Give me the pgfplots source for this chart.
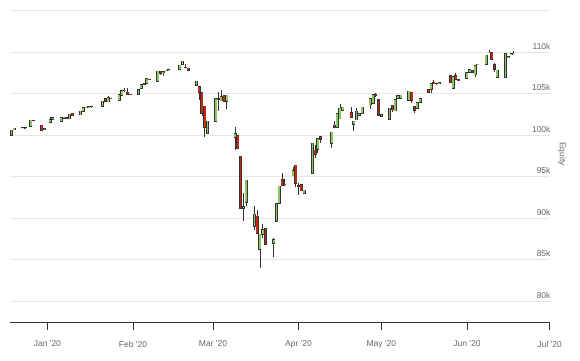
\documentclass[border=0pt]{standalone}
\usepackage{pgfplots}
\pgfplotsset{compat=1.18}
\usepackage{pgfplotstable}
\usepackage{fontspec}
\setmainfont{Liberation Sans}
\definecolor{upc}{RGB}{140,200,100}
\definecolor{dnc}{RGB}{200,40,15}
\definecolor{edge}{RGB}{51,51,51}
\definecolor{gridc}{RGB}{230,230,230}
\definecolor{labc}{RGB}{102,102,102}

% d = days since 1 Jan 2020; o h l c in thousands
\pgfplotstableread{
d o h l c
-13 99.94 100.63 99.94 100.63
-12 100.63 100.87 100.60 100.87
-9 100.88 100.95 100.88 100.95
-8 100.93 100.93 100.90 100.90
-6 101.10 101.83 101.10 101.83
-5 101.80 101.80 101.74 101.74
-2 101.23 101.23 100.60 100.60
-1 100.70 100.82 100.70 100.82
1 101.50 102.16 101.50 101.90
2 101.92 102.20 101.92 102.08
5 101.63 102.10 101.63 102.10
6 102.02 102.18 102.02 102.18
7 102.15 102.15 101.98 101.98
8 101.95 102.55 101.95 102.55
9 102.68 102.68 102.40 102.40
12 102.45 102.90 102.45 102.90
13 102.90 103.33 102.90 103.33
14 103.33 103.38 103.33 103.38
15 103.40 103.45 103.40 103.45
16 103.45 103.45 103.42 103.42
20 103.44 104.12 103.44 104.12
21 104.38 104.38 104.10 104.10
22 104.00 104.75 104.00 104.55
23 104.45 104.45 104.40 104.40
26 104.16 104.90 104.16 104.90
27 104.82 105.35 104.82 105.35
28 105.35 105.65 105.20 105.45
29 105.20 105.75 104.95 104.95
30 104.92 104.92 104.88 104.88
33 104.93 105.52 104.93 105.52
34 105.65 106.14 105.65 106.14
35 106.14 106.22 106.14 106.20
36 106.26 106.86 106.26 106.86
37 106.75 106.75 106.70 106.70
40 106.50 107.74 106.50 107.74
41 107.74 107.74 107.30 107.44
42 107.55 107.68 107.18 107.68
43 107.80 107.85 107.80 107.85
44 107.86 107.88 107.86 107.88
48 107.90 108.47 107.90 108.47
49 108.50 108.95 108.50 108.95
50 108.20 108.55 108.05 108.12
51 108.10 108.10 107.70 107.85
54 105.97 106.54 105.97 106.54
55 105.82 105.82 104.25 105.13
56 105.13 105.13 102.30 102.64
57 103.52 103.52 99.82 100.95
58 100.18 101.71 100.18 101.71
61 101.63 104.45 101.63 104.45
62 104.40 105.25 102.92 104.32
63 104.15 105.40 104.15 104.62
64 104.77 104.77 104.04 104.04
65 104.04 104.85 103.16 104.85
68 99.70 100.95 98.21 100.20
69 99.91 99.91 98.43 98.43
70 97.49 97.49 91.19 91.19
71 91.15 93.00 89.70 91.35
72 91.86 94.57 91.45 94.57
75 88.97 91.45 88.57 90.50
76 90.25 91.03 88.16 88.16
77 86.24 88.08 83.94 88.08
78 88.04 89.29 87.56 88.64
79 88.76 88.76 86.84 86.84
82 86.96 87.56 85.34 87.40
83 89.60 91.79 89.60 91.79
84 91.79 93.87 91.79 93.87
85 94.68 95.40 93.91 93.91
86 94.10 94.72 93.87 94.02
89 95.08 96.12 95.08 95.72
90 96.40 96.40 93.79 94.20
91 93.90 94.20 92.79 93.84
92 94.00 94.00 93.27 93.27
93 92.99 93.39 92.99 93.39
96 95.40 99.03 95.40 99.03
97 98.21 98.80 97.20 97.70
98 98.30 99.58 97.85 99.58
99 99.87 99.87 99.03 99.50
103 99.03 100.36 98.42 100.36
104 101.23 101.70 100.95 100.95
105 100.95 102.64 100.95 102.64
106 101.95 103.76 101.95 103.25
107 102.96 103.40 102.96 103.40
110 102.72 103.40 102.16 102.16
111 101.31 101.71 100.54 101.71
112 101.83 103.25 101.83 102.92
113 102.35 102.64 102.35 102.64
114 102.64 103.37 102.64 103.37
117 103.64 104.37 103.12 104.37
118 103.85 104.89 103.85 104.89
119 104.88 105.05 104.65 104.83
120 104.29 104.29 102.35 102.35
121 102.23 102.52 102.23 102.52
124 101.92 103.25 101.92 103.25
125 103.64 103.64 102.80 103.04
126 102.92 104.25 102.92 104.25
127 104.40 104.81 104.40 104.81
128 104.45 104.85 104.45 104.85
131 104.20 105.31 104.20 105.31
132 105.20 105.20 103.85 104.16
133 103.42 103.42 102.68 102.96
134 103.22 103.90 103.22 103.90
135 103.92 104.45 103.92 104.45
138 105.48 105.48 105.13 105.13
139 105.54 106.20 105.05 106.20
140 106.40 106.60 106.20 106.20
141 106.24 106.24 106.20 106.20
142 106.26 106.30 106.26 106.30
146 107.26 107.26 106.30 106.30
147 105.66 107.06 105.66 107.06
148 107.18 107.47 106.72 106.72
149 106.68 106.68 106.64 106.64
152 106.85 107.54 106.85 107.54
153 107.55 107.87 107.55 107.87
154 107.80 107.80 107.54 107.54
155 107.26 108.35 107.06 108.35
156 108.52 108.56 108.52 108.56
159 108.50 109.67 108.50 109.67
160 109.95 110.28 109.95 110.00
161 110.00 110.00 109.16 109.16
162 108.55 108.75 107.66 107.95
163 106.98 107.86 106.98 107.86
166 106.98 109.80 106.98 109.80
167 109.40 109.50 109.40 109.50
168 109.78 109.82 109.78 109.82
169 109.86 110.20 109.75 109.90
}\candles

\begin{document}
\begin{tikzpicture}
\path[use as bounding box] (0pt,0pt) rectangle (580pt,360pt);
\begin{axis}[
  at={(10pt,38pt)}, anchor=south west,
  scale only axis, width=540pt, height=311.2pt,
  xmin=-13.55, xmax=182.1, ymin=77.47, ymax=115,
  axis x line*=bottom, axis y line*=right,
  x axis line style={-, draw=edge, line width=1pt},
  y axis line style={draw=none},
  xtick={0,31,60,91,121,152,182},
  xticklabels={Jan \textquotesingle20, Feb \textquotesingle20, Mar \textquotesingle20, Apr \textquotesingle20, May \textquotesingle20, Jun \textquotesingle20, Jul \textquotesingle20},
  ytick={80,85,90,95,100,105,110,115},
  yticklabels={80k,85k,90k,95k,100k,105k,110k,{}},
  ymajorgrids, grid style={draw=gridc, line width=0.8pt},
  tick align=outside, major tick length=8pt,
  xtick style={draw=edge, line width=0.8pt},
  ytick style={draw=none},
  ticklabel style={font=\fontsize{8.5}{10}\selectfont, text=labc},
  xticklabel style={yshift=-7.5pt},
  yticklabel style={anchor=base east, xshift=-4pt, yshift=3pt},
  every axis y label/.style={at={(rel axis cs:1.0222,0.54)}, anchor=center, rotate=-90, font=\fontsize{8.5}{10}\selectfont, text=labc},
  ylabel={Equity},
  candle/.style={draw=none, mark=none,
    error bars/y dir=plus, error bars/y explicit, error bars/error mark=none},
]
% wicks
\addplot[candle, error bars/error bar style={draw=edge, line width=0.8pt}]
  table[x=d, y=l, y error plus expr={\thisrow{h}-\thisrow{l}}] {\candles};
% body outlines
\addplot[candle, error bars/error bar style={draw=edge, line width=3.0pt, shorten <=-0.45pt, shorten >=-0.45pt}]
  table[x=d, y expr={min(\thisrow{o},\thisrow{c})}, y error plus expr={abs(\thisrow{c}-\thisrow{o})}] {\candles};
% up fills
\addplot[candle, restrict expr to domain={\thisrow{c}-\thisrow{o}}{0:100},
  error bars/error bar style={draw=upc, line width=1.7pt, shorten <=0.25pt, shorten >=0.25pt}]
  table[x=d, y expr={min(\thisrow{o},\thisrow{c})}, y error plus expr={abs(\thisrow{c}-\thisrow{o})}] {\candles};
% down fills
\addplot[candle, restrict expr to domain={\thisrow{c}-\thisrow{o}}{-100:-0.00001},
  error bars/error bar style={draw=dnc, line width=1.7pt, shorten <=0.25pt, shorten >=0.25pt}]
  table[x=d, y expr={min(\thisrow{o},\thisrow{c})}, y error plus expr={abs(\thisrow{c}-\thisrow{o})}] {\candles};
\end{axis}
\end{tikzpicture}
\end{document}
